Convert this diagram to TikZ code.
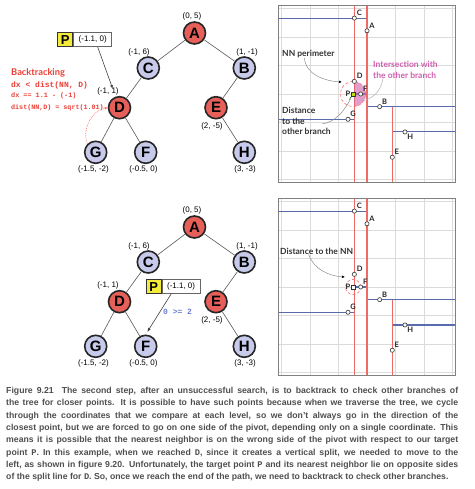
\documentclass[tikz,border=0pt]{standalone}
\usepackage{fontspec}
\setmainfont{Liberation Sans}
\setmonofont{Liberation Mono}
\newfontfamily\notefont{Lato}
\usetikzlibrary{arrows.meta,positioning}

\definecolor{nodered}{HTML}{E65F58}
\definecolor{nodelilac}{HTML}{C7CAEA}
\definecolor{codered}{HTML}{EC3F36}
\definecolor{codeblue}{HTML}{6C7FD6}
\definecolor{splitred}{HTML}{EE6B63}
\definecolor{splitblue}{HTML}{5B6CAE}
\definecolor{notepink}{HTML}{CF5FAE}
\definecolor{pboxyellow}{HTML}{F4EA3C}
\definecolor{captiongray}{HTML}{4F4F4F}

\tikzset{
  treenode/.style={circle,draw=black!85,line width=1.6pt,minimum size=22pt,inner sep=0pt,
    font=\fontsize{15}{15}\selectfont\bfseries},
  rednode/.style={treenode,fill=nodered},
  lilacnode/.style={treenode,fill=nodelilac},
  coordlbl/.style={font=\fontsize{8}{8}\selectfont,inner sep=0pt},
  treeedge/.style={black!65,line width=0.6pt},
  pletter/.style={draw=black!80,line width=1.2pt,fill=pboxyellow,minimum width=15pt,
    minimum height=14pt,inner sep=0pt,font=\fontsize{13}{13}\selectfont\bfseries},
  pvalue/.style={draw=black!60,line width=0.6pt,fill=white,minimum width=38pt,
    minimum height=14pt,inner sep=0pt,font=\fontsize{8}{8}\selectfont},
  pointer/.style={-{Latex[length=4pt,width=3pt]},black!75,line width=0.6pt},
  backarc/.style={-{Latex[length=3pt,width=3pt]},red!55,densely dotted,line width=0.7pt},
  codeline/.style={anchor=west,inner sep=0pt,text=codered,font=\ttfamily\bfseries},
  gridline/.style={black!14,line width=0.3pt},
  redsplit/.style={splitred,line width=1.3pt},
  bluesplit/.style={splitblue,line width=1.1pt},
  kdpoint/.style={circle,draw=black!80,fill=white,line width=0.6pt,minimum size=4.2pt,inner sep=0pt},
  kdsquare/.style={rectangle,draw=black!80,line width=0.4pt,minimum size=3.6pt,inner sep=0pt},
  kdlbl/.style={font=\notefont\fontsize{7.5}{7.5}\selectfont\bfseries,text=black!85,inner sep=0.5pt},
  nnring/.style={red!55,densely dashed,line width=0.6pt},
  note/.style={font=\notefont\fontsize{8.5}{10.5}\selectfont\bfseries,text=black!80,align=left,inner sep=0pt},
  noteline/.style={black!45,line width=0.5pt},
  notearrow/.style={noteline,-{Latex[length=3pt,width=2.5pt,color=black]}},
}

\begin{document}
\begin{tikzpicture}[x=1pt,y=-1pt]
\fill[white] (0,0) rectangle (474,489);
\useasboundingbox (0,0) rectangle (474,489);

% the two trees
\foreach \t/\dy in {1/0,2/194}{
  \begin{scope}[shift={(0,\dy)}]
  \node[rednode] (A\t) at (194.5,33) {A};
  \node[lilacnode] (C\t) at (148.3,68) {C};
  \node[lilacnode] (B\t) at (244.3,68) {B};
  \node[rednode] (D\t) at (119.5,107.7) {D};
  \node[rednode] (E\t) at (216,107.7) {E};
  \node[lilacnode] (G\t) at (95.7,152.3) {G};
  \node[lilacnode] (F\t) at (145.7,152.3) {F};
  \node[lilacnode] (H\t) at (244.3,152.3) {H};
  \draw[treeedge] (A\t) -- (C\t);
  \draw[treeedge] (A\t) -- (B\t);
  \draw[treeedge] (C\t) -- (D\t);
  \draw[treeedge] (B\t) -- (E\t);
  \draw[treeedge] (D\t) -- (G\t);
  \draw[treeedge] (D\t) -- (F\t);
  \draw[treeedge] (E\t) -- (H\t);
  \node[coordlbl] (lA\t) at (192,16) {(0, 5)};
  \node[coordlbl] (lC\t) at (139,52) {(-1, 6)};
  \node[coordlbl] (lB\t) at (247,52) {(1, -1)};
  \node[coordlbl] (lD\t) at (108,91) {(-1, 1)};
  \node[coordlbl] (lE\t) at (212,126) {(2, -5)};
  \node[coordlbl] (lG\t) at (93.5,169.5) {(-1.5, -2)};
  \node[coordlbl] (lF\t) at (143.5,169) {(-0.5, 0)};
  \node[coordlbl] (lH\t) at (245,169.5) {(3, -3)};
  \end{scope}
}

% top: backtracking to D
\node[pletter] (P1) at (65.3,39.7) {P};
\node[pvalue,right=0pt of P1] (P1v) {(-1.1, 0)};
\draw[pointer,shorten >=8pt] ([xshift=5pt]P1v.south) -- (D1);
\node[codeline,font=\notefont\fontsize{9.3}{9.3}\selectfont\bfseries] (btk) at (11,73) {Backtracking};
\node[codeline,font=\ttfamily\bfseries\fontsize{8}{8}\selectfont] (btk1) at (11,85) {dx < dist(NN, D)};
\node[codeline,font=\ttfamily\bfseries\fontsize{6.8}{6.8}\selectfont] (btk2) at (11,96) {dx == 1.1 - (-1)};
\node[codeline,font=\ttfamily\bfseries\fontsize{6.7}{6.7}\selectfont] (btk3) at (11,107.3) {dist(NN,D) = sqrt(1.01)};
\draw[backarc] (G1.north west) to[bend left=50] (D1.west);

% bottom: moving to F
\node[pletter] (P2) at (153.7,286.7) {P};
\node[pvalue,right=0pt of P2] (P2v) {(-1.1, 0)};
\draw[pointer,shorten >=3pt] ([xshift=-10pt]P2v.south) -- (F2.north);
\node[codeline,text=codeblue,font=\ttfamily\bfseries\fontsize{8}{8}\selectfont] (cmp2) at (163,312) {0 >= 2};

% the two k-d planes
\foreach \t/\dy in {1/94,2/287}{
  \begin{scope}[shift={(367,\dy)},x=12.65pt,y=12.65pt]
  \draw[gridline] (-7,-7) grid (7,7);
  \draw[bluesplit] (-7,6) -- (0,6);
  \draw[bluesplit] (0,-1) -- (7,-1);
  \draw[bluesplit] (-7,-2) -- (-1,-2);
  \draw[bluesplit] (2,-3) -- (7,-3);
  \draw[bluesplit] (-1,0) -- (0,0);
  \draw[redsplit] (0,-7) -- (0,7);
  \draw[redsplit] (-1,-7) -- (-1,7);
  \draw[redsplit] (2,-7) -- (2,-1);
  \draw[black!50,line width=0.8pt] (-7,-7) rectangle (7,7);
  \end{scope}
}
\begin{scope}[shift={(367,94)},x=12.65pt,y=12.65pt]
  \begin{scope}
    \clip (-1,-7) rectangle (7,7);
    \fill[notepink,opacity=0.6] (-1.1,0) circle (1.005);
  \end{scope}
  \draw[nnring] (-1.1,0) circle (1.005);
  \draw[green!55!black,densely dotted,line width=0.9pt] (-1.1,0) -- (-1.4,-0.45);
\end{scope}
\begin{scope}[shift={(367,287)},x=12.65pt,y=12.65pt]
  \draw[nnring] (-1.1,0) circle (0.6);
\end{scope}
\foreach \t/\dy/\pf in {1/94/yellow!75!green,2/287/white}{
  \begin{scope}[shift={(367,\dy)},x=12.65pt,y=12.65pt]
  \node[kdpoint] (kA\t) at (0,5) {};
  \node[kdpoint] (kC\t) at (-1,6) {};
  \node[kdpoint] (kB\t) at (1,-1) {};
  \node[kdpoint] (kD\t) at (-1,1) {};
  \node[kdpoint] (kE\t) at (2,-5) {};
  \node[kdpoint] (kG\t) at (-1.5,-2) {};
  \node[kdpoint] (kF\t) at (-0.5,0) {};
  \node[kdpoint] (kH\t) at (3,-3) {};
  \node[kdsquare,fill=\pf] (kP\t) at (-1.1,0) {};
  \node[kdlbl,above right=0pt of kA\t] (kAl\t) {A};
  \node[kdlbl,above right=0pt of kC\t] (kCl\t) {C};
  \node[kdlbl,above right=0pt of kB\t] (kBl\t) {B};
  \node[kdlbl,above right=0pt of kD\t] (kDl\t) {D};
  \node[kdlbl,above right=0pt of kE\t] (kEl\t) {E};
  \node[kdlbl,above right=0pt of kG\t] (kGl\t) {G};
  \node[kdlbl,above right=0pt of kF\t] (kFl\t) {F};
  \node[kdlbl,below right=0pt of kH\t] (kHl\t) {H};
  \node[kdlbl,left=0pt of kP\t] (kPl\t) {P};
  \end{scope}
}

% notes on the planes
\node[note,anchor=west] (nnper) at (282,54) {NN perimeter};
\coordinate (nntip) at (342,82);
\draw[notearrow] ([xshift=-4pt]nnper.south) .. controls (306,75) and (325,81) .. (nntip);
\node[note,text=notepink,anchor=north west] (inter) at (373,61) {Intersection with\\the other branch};
\coordinate (intertip) at (362,101);
\draw[noteline,black!30] ([xshift=10pt]inter.south west) .. controls (380,95) and (370,99) .. (intertip);
\node[note,anchor=north west] (dist1) at (282,107) {Distance\\to the\\other branch};
\coordinate (distfoot) at (322,124);
\coordinate (disttip) at (351,98);
\draw[noteline] (distfoot) .. controls (336,122) and (345,110) .. (disttip);
\node[note,anchor=west] (nndist) at (280,251) {Distance to the NN};
\coordinate (nndtip) at (345,277);
\draw[notearrow] ([xshift=-8pt]nndist.south) .. controls (314,270) and (330,276) .. (nndtip);

% caption
\node[anchor=north west,text width=452pt,inner sep=0pt,align=justify,text=captiongray,
  font=\fontsize{8.7}{12.3}\selectfont\bfseries] (caption) at (6,387) {\parfillskip=0pt
Figure 9.21\hspace{8pt}The second step, after an unsuccessful search, is to backtrack to check other branches of\linebreak
the tree for closer points. It is possible to have such points because when we traverse the tree, we cycle\linebreak
through the coordinates that we compare at each level, so we don't always go in the direction of the\linebreak
closest point, but we are forced to go on one side of the pivot, depending only on a single coordinate. This\linebreak
means it is possible that the nearest neighbor is on the wrong side of the pivot with respect to our target\linebreak
point \texttt{P}. In this example, when we reached \texttt{D}, since it creates a vertical split, we needed to move to the\linebreak
left, as shown in figure 9.20. Unfortunately, the target point \texttt{P} and its nearest neighbor lie on opposite sides\linebreak
of the split line for \texttt{D}. So, once we reach the end of the path, we need to backtrack to check other branches.};
\end{tikzpicture}
\end{document}
